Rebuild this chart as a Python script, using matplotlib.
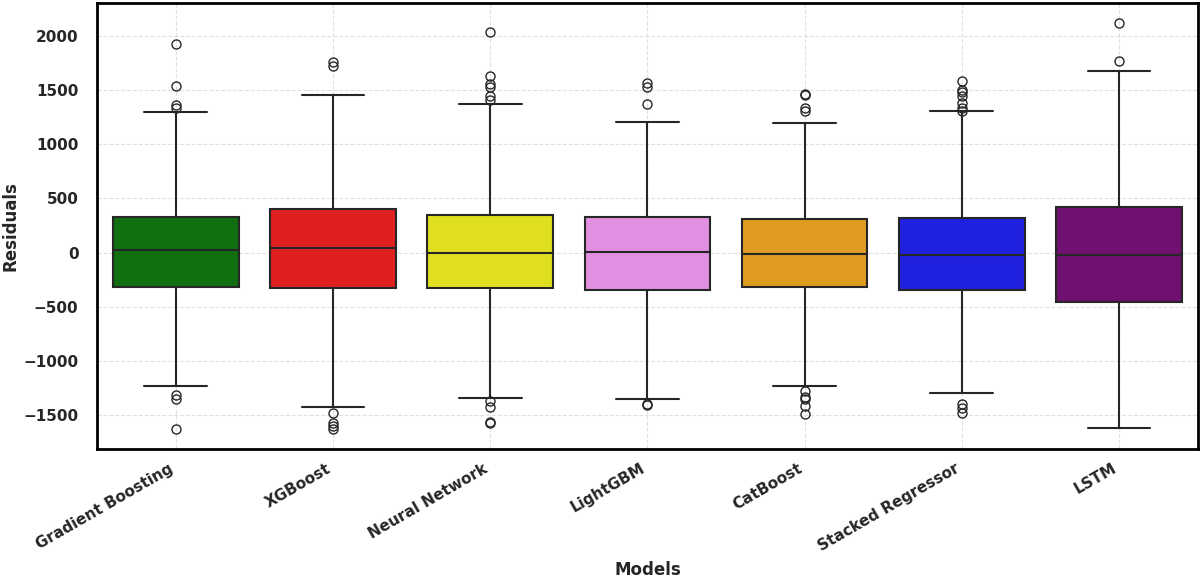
import matplotlib
matplotlib.use("Agg")
import matplotlib.pyplot as plt
import seaborn as sns

models = ["Gradient Boosting", "XGBoost", "Neural Network", "LightGBM",
          "CatBoost", "Stacked Regressor", "LSTM"]
colors = ["green", "red", "yellow", "violet", "orange", "blue", "purple"]

# box statistics
q1 = [-319, -331, -328, -350, -319, -350, -458]
med = [21, 40, 0, 3, -9, -19, -25]
q3 = [327, 402, 343, 327, 306, 315, 420]
whislo = [-1234, -1423, -1345, -1354, -1234, -1299, -1620]
whishi = [1295, 1456, 1373, 1209, 1199, 1304, 1675]
fliers = [
    [1929, 1536, 1363, 1336, -1314, -1349, -1627],
    [1762, 1725, -1484, -1571, -1602, -1627],
    [2041, 1626, 1552, 1533, 1447, 1413, -1373, -1428, -1562, -1571],
    [1567, 1530, 1376, -1395, -1410],
    [1466, 1453, 1332, 1304, -1277, -1333, -1352, -1416, -1494],
    [1586, 1499, 1481, 1444, 1382, 1332, 1310, -1395, -1438, -1481],
    [2118, 1765],
]

sns.set_style("whitegrid", {"grid.linestyle": "--"})

stats = []
for i, m in enumerate(models):
    stats.append({"label": m, "q1": q1[i], "med": med[i], "q3": q3[i],
                  "whislo": whislo[i], "whishi": whishi[i], "fliers": fliers[i]})

fig = plt.figure(figsize=(12, 5.79), dpi=100)
ax = fig.add_axes([0.081, 0.2245, 0.917, 0.7705])

dark = "#262626"
bp = ax.bxp(stats, positions=range(len(models)), widths=0.8, patch_artist=True,
            boxprops=dict(edgecolor=dark, linewidth=1.5),
            medianprops=dict(color=dark, linewidth=1.5),
            whiskerprops=dict(color=dark, linewidth=1.5),
            capprops=dict(color=dark, linewidth=1.5),
            flierprops=dict(marker="o", markerfacecolor="none",
                            markeredgecolor=dark, markersize=6.5, linewidth=0))
for patch, c in zip(bp["boxes"], colors):
    patch.set_facecolor(sns.desaturate(c, 0.75))

ax.set_xlim(-0.5, len(models) - 0.5)
ax.grid(True, linestyle="--", alpha=0.6)
for s in ax.spines.values():
    s.set_color("black")
    s.set_linewidth(2)

ax.tick_params(axis="x", pad=5)
ax.tick_params(axis="y", pad=10)
ax.set_xticks(range(len(models)))
ax.set_xticklabels(models, rotation=30, ha="right", fontweight="bold", fontsize=11)
for t in ax.get_yticklabels():
    t.set_fontweight("bold")
    t.set_fontsize(11)
ax.set_xlabel("Models", fontweight="bold", fontsize=12, labelpad=5)
ax.set_ylabel("Residuals", fontweight="bold", fontsize=12, labelpad=3)

fig.savefig("out.png", dpi=100)
